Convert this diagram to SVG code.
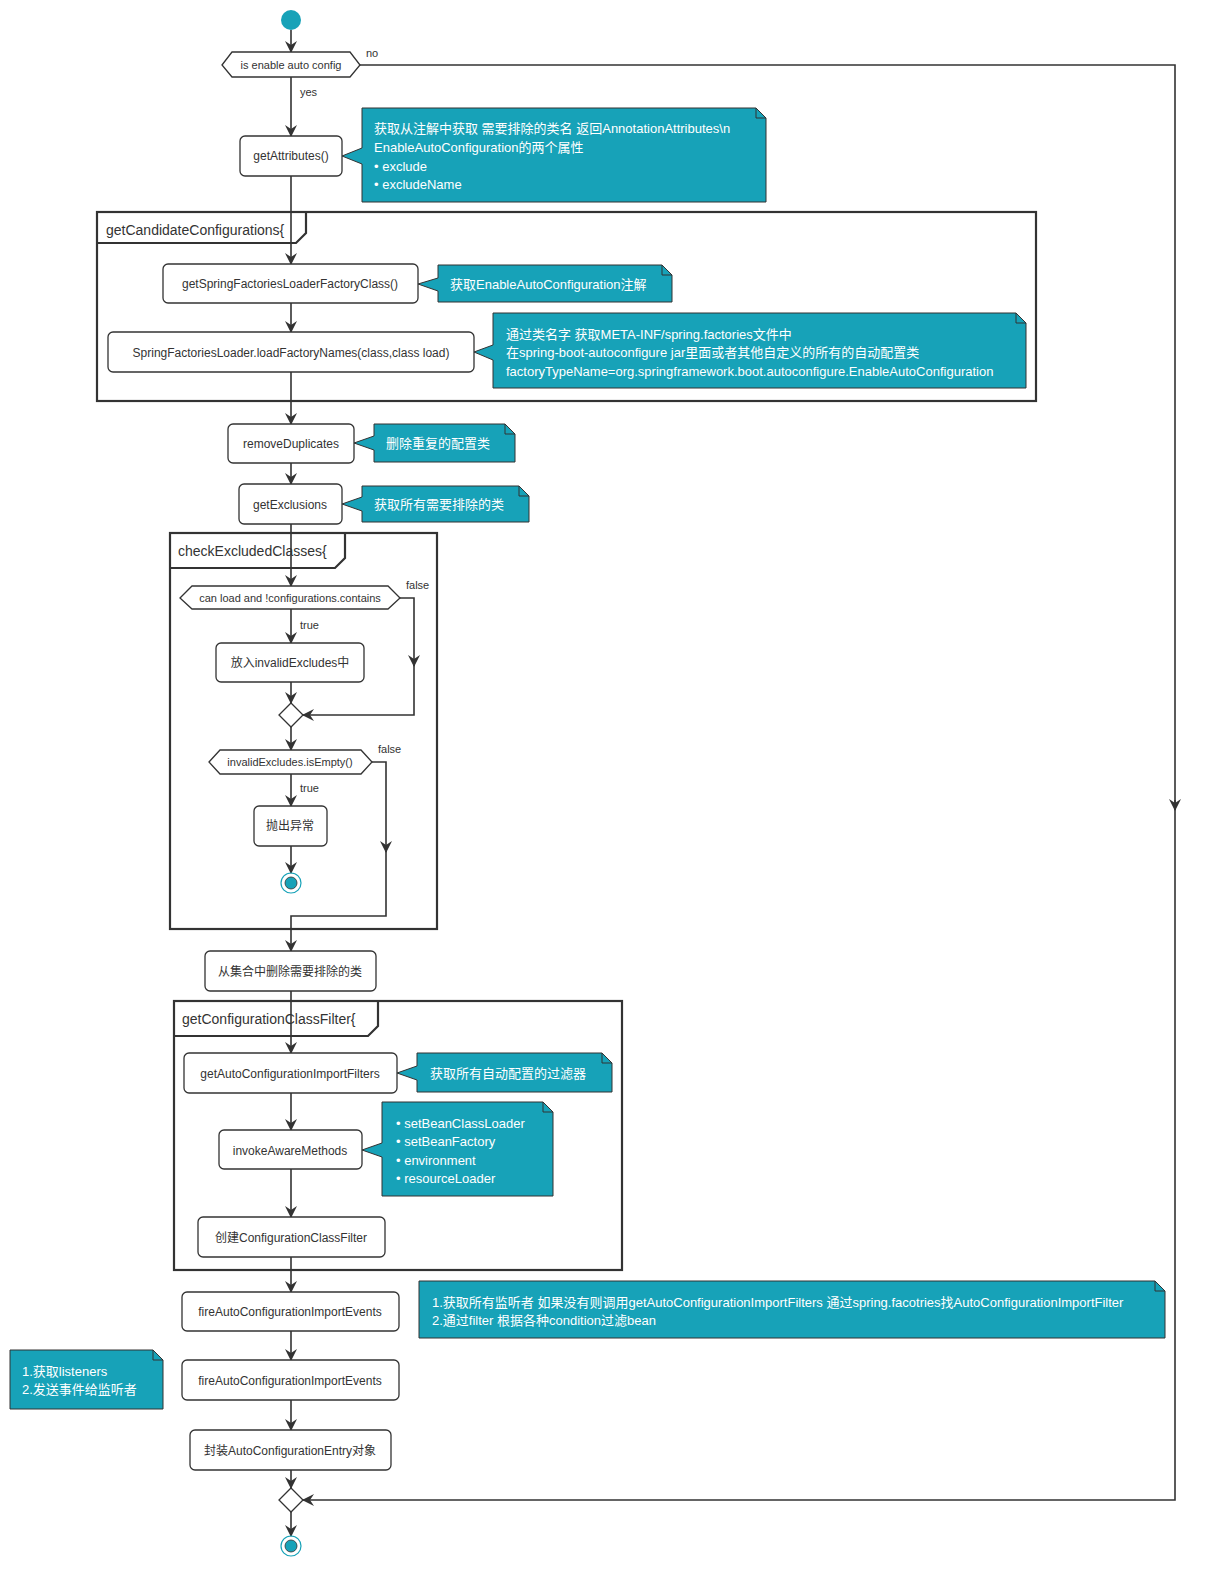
<svg xmlns="http://www.w3.org/2000/svg" width="1206" height="1576" viewBox="0 0 1206 1576">
<defs>
<marker id="ar" viewBox="0 0 12 12" refX="11" refY="6" markerWidth="12" markerHeight="12" orient="auto" markerUnits="userSpaceOnUse"><path d="M0,0 L12,6 L0,12 L4,6 Z" fill="#333"/></marker>
<style>
text{font-family:"Liberation Sans","Noto Sans CJK SC",sans-serif;fill:#333}
.box{fill:#fff;stroke:#333;stroke-width:1.3}
.grp{fill:none;stroke:#333;stroke-width:2.2}
.note{fill:#17A2B8;stroke:#333;stroke-width:1}
.nt{fill:#fff;font-size:13px}
.ln{fill:none;stroke:#333;stroke-width:1.6}
.t{font-size:12px;text-anchor:middle}
.lb{font-size:11px}
</style>
</defs>
<rect width="1206" height="1576" fill="#fff"/>
<g id="connectors">
<path class="ln" d="M291,30 V52" marker-end="url(#ar)"/>
<path class="ln" d="M291,77 V136" marker-end="url(#ar)"/>
<path class="ln" d="M360,65 H1175 V810" marker-end="url(#ar)"/>
<path class="ln" d="M1175,800 V1500 H303" marker-end="url(#ar)"/>
<path class="ln" d="M291,176 V264" marker-end="url(#ar)"/>
<path class="ln" d="M291,303 V332" marker-end="url(#ar)"/>
<path class="ln" d="M291,372 V424" marker-end="url(#ar)"/>
<path class="ln" d="M291,463 V484" marker-end="url(#ar)"/>
<path class="ln" d="M291,524 V586" marker-end="url(#ar)"/>
<path class="ln" d="M291,609 V643" marker-end="url(#ar)"/>
<path class="ln" d="M400,598 H414 V666" marker-end="url(#ar)"/>
<path class="ln" d="M414,660 V715 H303" marker-end="url(#ar)"/>
<path class="ln" d="M291,682 V703" marker-end="url(#ar)"/>
<path class="ln" d="M291,727 V750" marker-end="url(#ar)"/>
<path class="ln" d="M291,774 V806" marker-end="url(#ar)"/>
<path class="ln" d="M372,762 H386 V852" marker-end="url(#ar)"/>
<path class="ln" d="M386,845 V916 H291 V951" marker-end="url(#ar)"/>
<path class="ln" d="M291,846 V873" marker-end="url(#ar)"/>
<path class="ln" d="M291,991 V1053" marker-end="url(#ar)"/>
<path class="ln" d="M291,1093 V1130" marker-end="url(#ar)"/>
<path class="ln" d="M291,1169 V1217" marker-end="url(#ar)"/>
<path class="ln" d="M291,1257 V1292" marker-end="url(#ar)"/>
<path class="ln" d="M291,1331 V1360" marker-end="url(#ar)"/>
<path class="ln" d="M291,1400 V1430" marker-end="url(#ar)"/>
<path class="ln" d="M291,1470 V1488" marker-end="url(#ar)"/>
<path class="ln" d="M291,1512 V1536" marker-end="url(#ar)"/>
<text class="lb" x="366" y="57">no</text>
<text class="lb" x="300" y="96">yes</text>
<text class="lb" x="406" y="589">false</text>
<text class="lb" x="300" y="629">true</text>
<text class="lb" x="378" y="753">false</text>
<text class="lb" x="300" y="792">true</text>
</g>
<g id="start"><circle cx="291" cy="20" r="10" fill="#17A2B8"/></g>
<g id="d1"><polygon class="box" points="222,65 232,52 350,52 360,65 350,77 232,77"/><text x="291" y="69" text-anchor="middle" font-size="11">is enable auto config</text></g>
<g id="getAttributes"><rect class="box" x="240" y="136" width="102" height="40" rx="5"/><text class="t" x="291" y="160">getAttributes()</text></g>
<g id="n1"><path class="note" d="M362,108 H756 L766,118 V202 H362 V164 L342,156 L362,148 Z"/><path d="M756,108 V118 H766" fill="none" stroke="#333"/>
<text class="nt" x="374" y="133">获取从注解中获取 需要排除的类名 返回AnnotationAttributes\n</text>
<text class="nt" x="374" y="152">EnableAutoConfiguration的两个属性</text>
<text class="nt" x="374" y="171">• exclude</text><text class="nt" x="374" y="189">• excludeName</text></g>
<g id="g1"><rect class="grp" x="97" y="212" width="939" height="189"/><path class="grp" d="M97,243 H296 L306,233 V212"/><text x="106" y="235" font-size="14">getCandidateConfigurations{</text></g>
<g id="gsflfc"><rect class="box" x="163" y="264" width="255" height="39" rx="5"/><text class="t" x="290" y="288">getSpringFactoriesLoaderFactoryClass()</text></g>
<g id="n2"><path class="note" d="M438,265 H662 L672,275 V302 H438 V291 L418,284 L438,278 Z"/><path d="M662,265 V275 H672" fill="none" stroke="#333"/><text class="nt" x="450" y="289">获取EnableAutoConfiguration注解</text></g>
<g id="sfl"><rect class="box" x="108" y="332" width="366" height="40" rx="5"/><text class="t" x="291" y="357">SpringFactoriesLoader.loadFactoryNames(class,class load)</text></g>
<g id="n3"><path class="note" d="M493,313 H1016 L1026,323 V388 H493 V360 L474,352 L493,345 Z"/><path d="M1016,313 V323 H1026" fill="none" stroke="#333"/>
<text class="nt" x="506" y="339">通过类名字 获取META-INF/spring.factories文件中</text>
<text class="nt" x="506" y="357">在spring-boot-autoconfigure jar里面或者其他自定义的所有的自动配置类</text>
<text class="nt" x="506" y="376">factoryTypeName=org.springframework.boot.autoconfigure.EnableAutoConfiguration</text></g>
<g id="rd"><rect class="box" x="228" y="424" width="126" height="39" rx="5"/><text class="t" x="291" y="448">removeDuplicates</text></g>
<g id="n4"><path class="note" d="M374,424 H505 L515,434 V462 H374 V450 L354,443 L374,436 Z"/><path d="M505,424 V434 H515" fill="none" stroke="#333"/><text class="nt" x="386" y="448">删除重复的配置类</text></g>
<g id="ge"><rect class="box" x="239" y="484" width="103" height="40" rx="5"/><text class="t" x="290" y="509">getExclusions</text></g>
<g id="n5"><path class="note" d="M362,486 H519 L529,496 V522 H362 V511 L342,504 L362,497 Z"/><path d="M519,486 V496 H529" fill="none" stroke="#333"/><text class="nt" x="374" y="509">获取所有需要排除的类</text></g>
<g id="g2"><rect class="grp" x="170" y="533" width="267" height="396"/><path class="grp" d="M170,568 H335 L345,558 V533"/><text x="178" y="556" font-size="14">checkExcludedClasses{</text></g>
<g id="d2"><polygon class="box" points="180,598 192,586 388,586 400,598 388,609 192,609"/><text x="290" y="602" text-anchor="middle" font-size="11">can load and !configurations.contains</text></g>
<g id="pi"><rect class="box" x="216" y="643" width="148" height="39" rx="5"/><text class="t" x="290" y="667">放入invalidExcludes中</text></g>
<g id="m1"><polygon class="box" points="291,703 303,715 291,727 279,715"/></g>
<g id="d3"><polygon class="box" points="209,762 220,750 361,750 372,762 361,774 220,774"/><text x="290" y="766" text-anchor="middle" font-size="11">invalidExcludes.isEmpty()</text></g>
<g id="th"><rect class="box" x="254" y="806" width="73" height="40" rx="5"/><text class="t" x="290" y="830">抛出异常</text></g>
<g id="end1"><circle cx="291" cy="883" r="10" fill="none" stroke="#17A2B8" stroke-width="1.2"/><circle cx="291" cy="883" r="6" fill="#17A2B8" stroke="#333" stroke-width="0.8"/></g>
<g id="rm"><rect class="box" x="205" y="951" width="171" height="40" rx="5"/><text class="t" x="290" y="976">从集合中删除需要排除的类</text></g>
<g id="g3"><rect class="grp" x="174" y="1001" width="448" height="269"/><path class="grp" d="M174,1036 H368 L378,1026 V1001"/><text x="182" y="1024" font-size="14">getConfigurationClassFilter{</text></g>
<g id="gaci"><rect class="box" x="184" y="1053" width="213" height="40" rx="5"/><text class="t" x="290" y="1078">getAutoConfigurationImportFilters</text></g>
<g id="n6"><path class="note" d="M417,1053 H602 L612,1063 V1092 H417 V1080 L397,1073 L417,1066 Z"/><path d="M602,1053 V1063 H612" fill="none" stroke="#333"/><text class="nt" x="430" y="1078">获取所有自动配置的过滤器</text></g>
<g id="iam"><rect class="box" x="219" y="1130" width="143" height="39" rx="5"/><text class="t" x="290" y="1155">invokeAwareMethods</text></g>
<g id="n7"><path class="note" d="M382,1102 H543 L553,1112 V1196 H382 V1157 L362,1150 L382,1143 Z"/><path d="M543,1102 V1112 H553" fill="none" stroke="#333"/>
<text class="nt" x="396" y="1128">• setBeanClassLoader</text><text class="nt" x="396" y="1146">• setBeanFactory</text><text class="nt" x="396" y="1165">• environment</text><text class="nt" x="396" y="1183">• resourceLoader</text></g>
<g id="ccf"><rect class="box" x="198" y="1217" width="187" height="40" rx="5"/><text class="t" x="291" y="1242">创建ConfigurationClassFilter</text></g>
<g id="fire1"><rect class="box" x="182" y="1292" width="217" height="39" rx="5"/><text class="t" x="290" y="1316">fireAutoConfigurationImportEvents</text></g>
<g id="n8"><path class="note" d="M419,1281 H1155 L1165,1291 V1338 H419 Z"/><path d="M1155,1281 V1291 H1165" fill="none" stroke="#333"/>
<text class="nt" x="432" y="1307">1.获取所有监听者 如果没有则调用getAutoConfigurationImportFilters 通过spring.facotries找AutoConfigurationImportFilter</text>
<text class="nt" x="432" y="1325">2.通过filter 根据各种condition过滤bean</text></g>
<g id="fire2"><rect class="box" x="182" y="1360" width="217" height="40" rx="5"/><text class="t" x="290" y="1385">fireAutoConfigurationImportEvents</text></g>
<g id="n9"><path class="note" d="M10,1350 H153 L163,1360 V1409 H10 Z"/><path d="M153,1350 V1360 H163" fill="none" stroke="#333"/>
<text class="nt" x="22" y="1376">1.获取listeners</text><text class="nt" x="22" y="1394">2.发送事件给监听者</text></g>
<g id="fz"><rect class="box" x="190" y="1430" width="201" height="40" rx="5"/><text class="t" x="290" y="1455">封装AutoConfigurationEntry对象</text></g>
<g id="m2"><polygon class="box" points="291,1488 303,1500 291,1512 279,1500"/></g>
<g id="end2"><circle cx="291" cy="1546" r="10" fill="none" stroke="#17A2B8" stroke-width="1.2"/><circle cx="291" cy="1546" r="6" fill="#17A2B8" stroke="#333" stroke-width="0.8"/></g>
</svg>
